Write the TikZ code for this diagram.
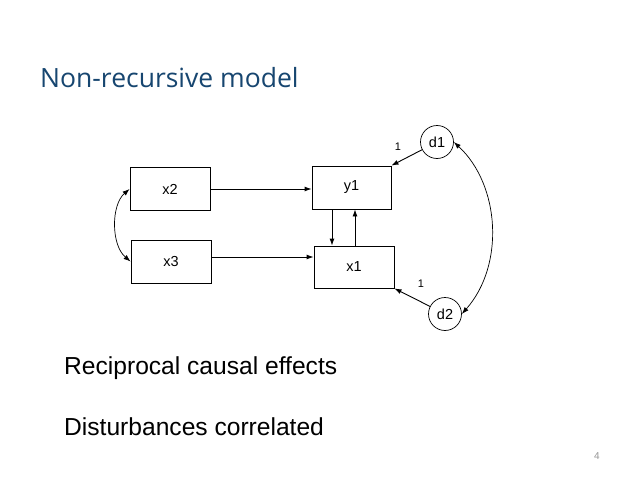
\documentclass[tikz,border=0pt]{standalone}
\usepackage{fontspec}
\setmainfont{Liberation Sans}
\newfontfamily\titlefont{Open Sans}
\usetikzlibrary{arrows.meta}
\definecolor{titleblue}{RGB}{23,70,112}
\definecolor{pagegray}{RGB}{150,150,150}
\begin{document}
\begin{tikzpicture}[x=1pt,y=-1pt,
  var/.style={draw,line width=0.9pt,minimum width=80pt,minimum height=43pt,inner sep=0pt,font=\fontsize{14.5}{16}\selectfont},
  dist/.style={draw,circle,line width=0.7pt,minimum size=33pt,inner sep=0pt,font=\fontsize{14.5}{16}\selectfont},
  arr/.style={line width=0.9pt,-{Latex[length=7pt,width=5pt]}},
  cov/.style={line width=0.7pt,{Latex[length=7pt,width=5pt]}-{Latex[length=7pt,width=5pt]}},
  lbl/.style={inner sep=0pt,font=\fontsize{11}{13}\selectfont},
  body/.style={anchor=base west,inner sep=0pt,font=\fontsize{24.6}{28}\selectfont}]
\useasboundingbox[fill=white] (0,0) rectangle (638,479);
\node[anchor=base west,inner sep=0pt,text=titleblue,font=\titlefont\fontsize{26.5}{30}\selectfont] (title) at (40,87) {Non-recursive model};
\node[var] (x2) at (170,189) {x2};
\node[var] (x3) at (171,261.5) {x3};
\node[var,minimum width=79pt] (y1) at (351.5,187.5) {y1};
\node[var,minimum height=42pt] (x1) at (354,267) {x1};
\node[dist] (d1) at (437,142) {d1};
\node[dist] (d2) at (445,314) {d2};
\draw[arr] (x2.east) -- (x2.east -| y1.west);
\draw[arr] ([yshift=4.5pt]x3.east) -- ([yshift=4.5pt]x3.east -| x1.west);
\draw[arr] (y1.south -| 332,0) -- (x1.north -| 332,0);
\draw[arr] (x1.north -| 355,0) -- (y1.south -| 355,0);
\draw[arr] (d1) -- (y1.north east);
\draw[arr] (d2) -- (x1.south east);
\node[lbl] (l1) at (398,147) {1};
\node[lbl] (l2) at (421,284) {1};
\draw[cov] (x2.west) .. controls (111,205) and (111,245) .. (x3.west);
\draw[cov] (d1.east) .. controls (500,185) and (505,265) .. (d2.east);
\node[body] (t1) at (64,374) {Reciprocal causal effects};
\node[body] (t2) at (64,435) {Disturbances correlated};
\node[inner sep=0pt,text=pagegray,font=\fontsize{10}{12}\selectfont] (pg) at (597,456) {4};
\end{tikzpicture}
\end{document}
